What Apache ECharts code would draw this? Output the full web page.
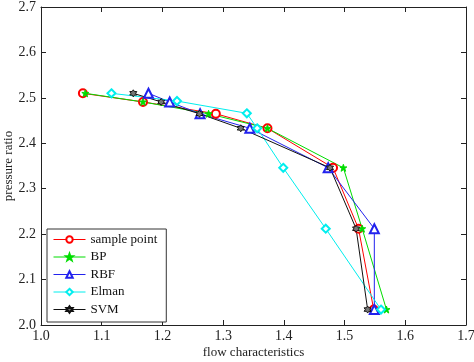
<!DOCTYPE html>
<html>
<head>
<meta charset="utf-8">
<script src="https://cdn.jsdelivr.net/npm/echarts@6/dist/echarts.min.js"></script>
<style>html,body{margin:0;padding:0;background:#fff;}#c{width:474px;height:362px;}</style>
</head>
<body>
<div id="c"></div>
<script>
const yLevels = [2.51, 2.491, 2.465, 2.433, 2.346, 2.212, 2.034];
const sampleX = [1.069, 1.168, 1.288, 1.373, 1.481, 1.523, 1.548];
const bpX = [1.073, 1.168, 1.276, 1.373, 1.498, 1.529, 1.569];
const rbfX = [1.177, 1.212, 1.262, 1.344, 1.473, 1.549, 1.549];
const elmanX = [1.116, 1.224, 1.339, 1.356, 1.399, 1.469, 1.560];
const elmanY = [2.51, 2.493, 2.466, 2.433, 2.346, 2.212, 2.034];
const svmX = [1.152, 1.198, 1.261, 1.329, 1.476, 1.519, 1.538];
const seriesNames = ['sample point', 'BP', 'RBF', 'Elman', 'SVM'];

function pairs(xs, ys) { return xs.map((x, i) => [x, ys[i]]); }

const starPath = 'path://M0,-10 L2.5,-3 L10,-3 L4,1.5 L6.5,9 L0,4.5 L-6.5,9 L-4,1.5 L-10,-3 L-2.5,-3 Z';
const hexPath = 'path://M0,-10 L2.9,-5 L8.66,-5 L5.8,0 L8.66,5 L2.9,5 L0,10 L-2.9,5 L-8.66,5 L-5.8,0 L-8.66,-5 L-2.9,-5 Z';

const font = 'Liberation Serif';
function mk(name, data, color, symbol, size, fill) {
  return {
    name: name, type: 'line', data: data, symbol: symbol, symbolSize: size,
    lineStyle: { color: color, width: 1 },
    itemStyle: { color: fill || color, borderColor: color, borderWidth: 1 },
    emphasis: { disabled: true }, animation: false
  };
}
const chart = echarts.init(document.getElementById('c'));
const axisCommon = {
  type: 'value', interval: 0.1,
  axisLine: { show: true, lineStyle: { color: '#222', width: 1 } },
  axisTick: { show: true, inside: true, length: 5, lineStyle: { color: '#222' } },
  splitLine: { show: false }
};
chart.setOption({
  animation: false,
  backgroundColor: '#fff',
  grid: { left: 41, top: 7, right: 8, bottom: 37, containLabel: false, outerBoundsMode: 'none' },
  xAxis: [
    Object.assign({}, axisCommon, { min: 1.0, max: 1.7, position: 'bottom',
      name: 'flow characteristics', nameLocation: 'middle', nameGap: 21, nameMoveOverlap: false,
      nameTextStyle: { fontFamily: font, fontSize: 13, color: '#222' },
      axisLabel: { fontFamily: font, fontSize: 14, color: '#222', margin: 4, formatter: v => v.toFixed(1) } }),
    Object.assign({}, axisCommon, { min: 1.0, max: 1.7, position: 'top', axisLabel: { show: false } })
  ],
  yAxis: [
    Object.assign({}, axisCommon, { min: 2.0, max: 2.7, position: 'left',
      name: 'pressure ratio', nameLocation: 'middle', nameGap: 26, nameMoveOverlap: false,
      nameTextStyle: { fontFamily: font, fontSize: 13, color: '#222' },
      axisLabel: { fontFamily: font, fontSize: 14, color: '#222', margin: 5, formatter: v => v.toFixed(1) } }),
    Object.assign({}, axisCommon, { min: 2.0, max: 2.7, position: 'right', axisLabel: { show: false } })
  ],
  legend: {
    orient: 'vertical', left: 47, top: 229,
    backgroundColor: '#fff', borderColor: '#333', borderWidth: 1,
    padding: [4, 9, 6, 6], itemGap: 4.5, itemWidth: 32, itemHeight: 8,
    lineStyle: { width: 1 },
    textStyle: { fontFamily: font, fontSize: 13, color: '#111' },
    data: seriesNames
  },
  series: [
    mk(seriesNames[0], pairs(sampleX, yLevels), '#ff0000', 'emptyCircle', 8),
    mk(seriesNames[1], pairs(bpX, yLevels), '#00dd00', starPath, 7),
    mk(seriesNames[2], pairs(rbfX, yLevels), '#2222ee', 'emptyTriangle', 9),
    mk(seriesNames[3], pairs(elmanX, elmanY), '#00eeee', 'emptyDiamond', 8),
    mk(seriesNames[4], pairs(svmX, yLevels), '#111111', hexPath, 7, '#777')
  ]
});
</script>
</body>
</html>
